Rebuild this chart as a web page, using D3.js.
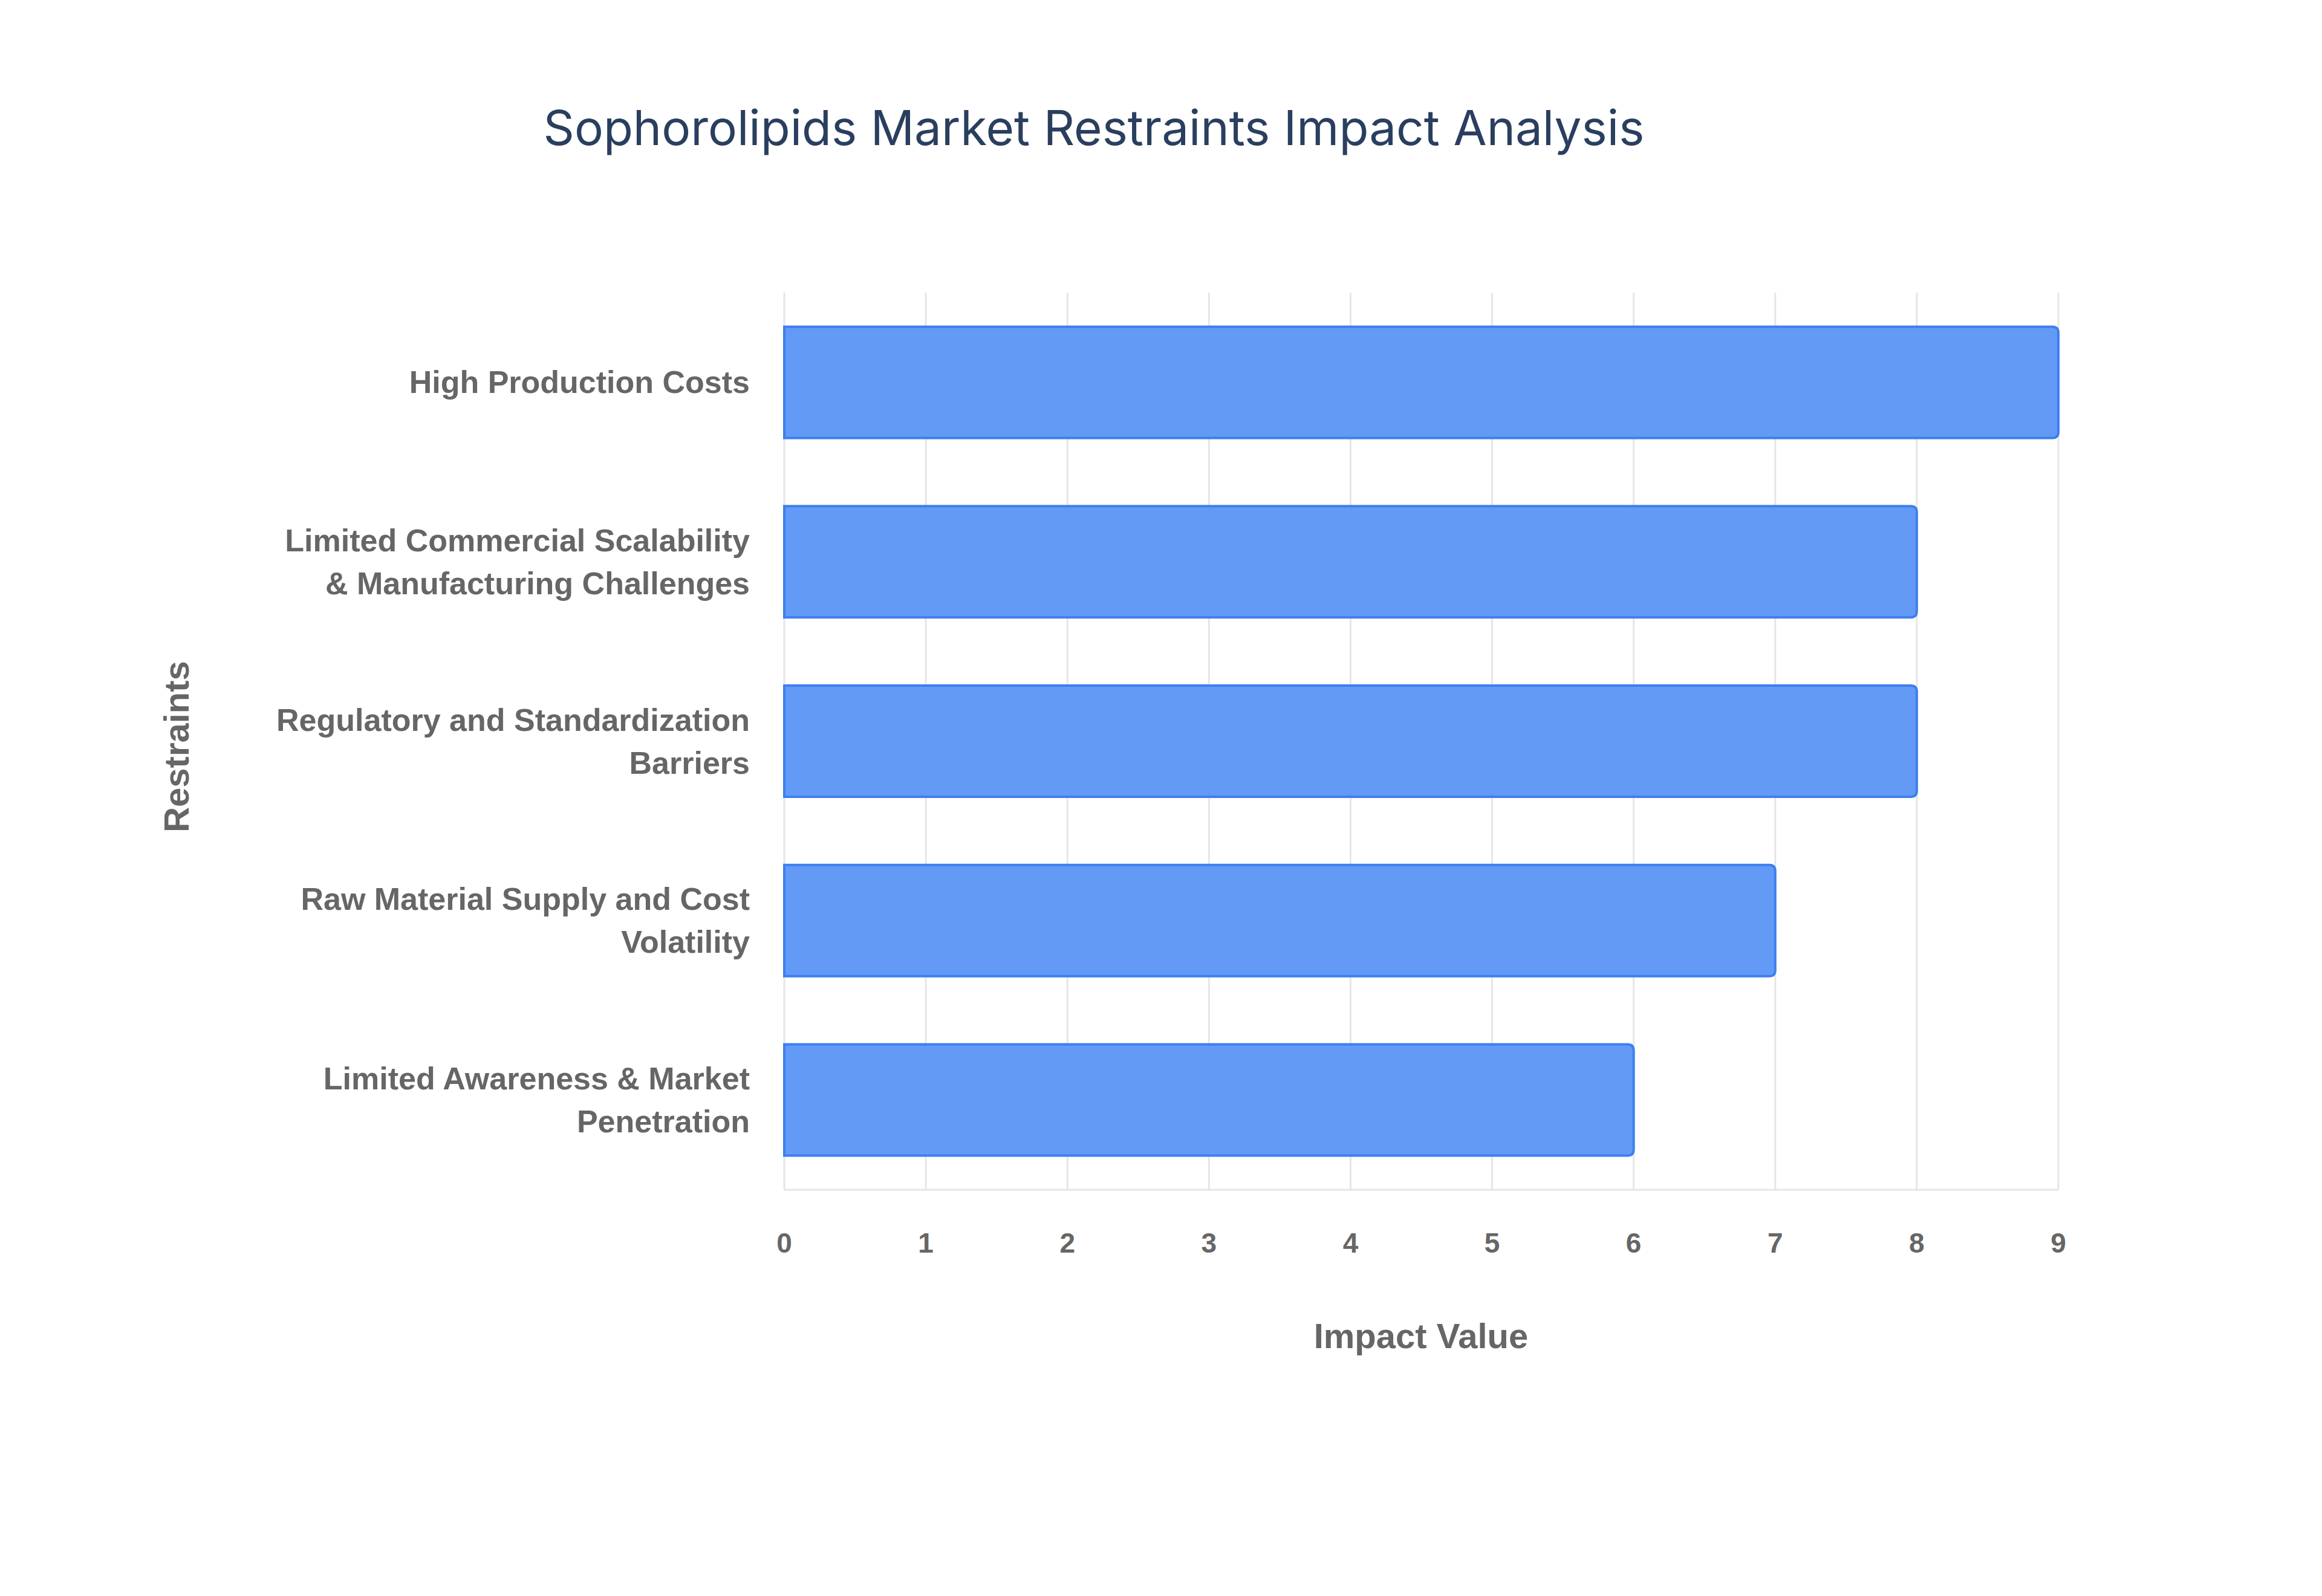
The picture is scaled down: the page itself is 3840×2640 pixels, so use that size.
<!DOCTYPE html>
<html><head><meta charset="utf-8">
<script src="https://cdn.jsdelivr.net/npm/d3@7"></script>
<style>body{margin:0;background:#fff}</style></head>
<body><svg id="c" width="3840" height="2640"></svg>
<script>
const categories = [["High Production Costs"],["Limited Commercial Scalability","& Manufacturing Challenges"],["Regulatory and Standardization","Barriers"],["Raw Material Supply and Cost","Volatility"],["Limited Awareness & Market","Penetration"]];
const values = [9, 8, 8, 7, 6];
const xTicks = [0,1,2,3,4,5,6,7,8,9];

const svg = d3.select("#c");
const m = {l:1297, r:3404, t:484, b:1968};
const x = d3.scaleLinear().domain([0,9]).range([m.l,m.r]);
const y = d3.scaleBand().domain(d3.range(values.length)).range([m.t,m.b]).paddingInner(0.38).paddingOuter(0.19);

svg.append("g").selectAll("line").data(xTicks).join("line")
  .attr("x1",d=>x(d)).attr("x2",d=>x(d)).attr("y1",m.t).attr("y2",m.b)
  .attr("stroke","#e6e6e6").attr("stroke-width",3);
svg.append("line").attr("x1",m.l).attr("x2",m.r).attr("y1",m.b).attr("y2",m.b).attr("stroke","#e6e6e6").attr("stroke-width",3);

const r = 10;
svg.append("g").selectAll("path").data(values).join("path")
  .attr("d",(d,i)=>{const x0=x(0),x1=x(d),y0=y(i),h=y.bandwidth();
    return `M${x0},${y0}H${x1-r}Q${x1},${y0} ${x1},${y0+r}V${y0+h-r}Q${x1},${y0+h} ${x1-r},${y0+h}H${x0}Z`;})
  .attr("fill","#5b95f5").attr("fill-opacity",0.95).attr("stroke","#3d7ff0").attr("stroke-width",4);

const font = "'Liberation Sans', Arial, sans-serif";
svg.append("g").selectAll("text").data(xTicks).join("text")
  .attr("x",d=>x(d)).attr("y",2072).attr("text-anchor","middle")
  .attr("font-family",font).attr("font-weight","bold").attr("font-size",46).attr("fill","#666").text(d=>d);

const yl = svg.append("g").selectAll("text").data(categories).join("text")
  .attr("text-anchor","end").attr("font-family",font).attr("font-weight","bold").attr("font-size",52).attr("fill","#666");
yl.each(function(lines,i){
  const t=d3.select(this), cy=y(i)+y.bandwidth()/2, lh=71;
  lines.forEach((s,j)=>t.append("tspan").attr("x",1240).attr("y",cy+(j-(lines.length-1)/2)*lh+18).text(s));
});

svg.append("text").attr("x",2350).attr("y",2230).attr("text-anchor","middle")
  .attr("font-family",font).attr("font-weight","bold").attr("font-size",58).attr("fill","#666").text("Impact Value");
svg.append("text").attr("transform","translate(312,1235) rotate(-90)").attr("text-anchor","middle")
  .attr("font-family",font).attr("font-weight","bold").attr("font-size",58).attr("fill","#666").text("Restraints");
svg.append("text").attr("x",1809).attr("y",240).attr("text-anchor","middle")
  .attr("font-family","Inter, 'Open Sans', sans-serif").attr("font-size",80).attr("fill","#2a3f5f").text("Sophorolipids Market Restraints Impact Analysis");
</script></body></html>
